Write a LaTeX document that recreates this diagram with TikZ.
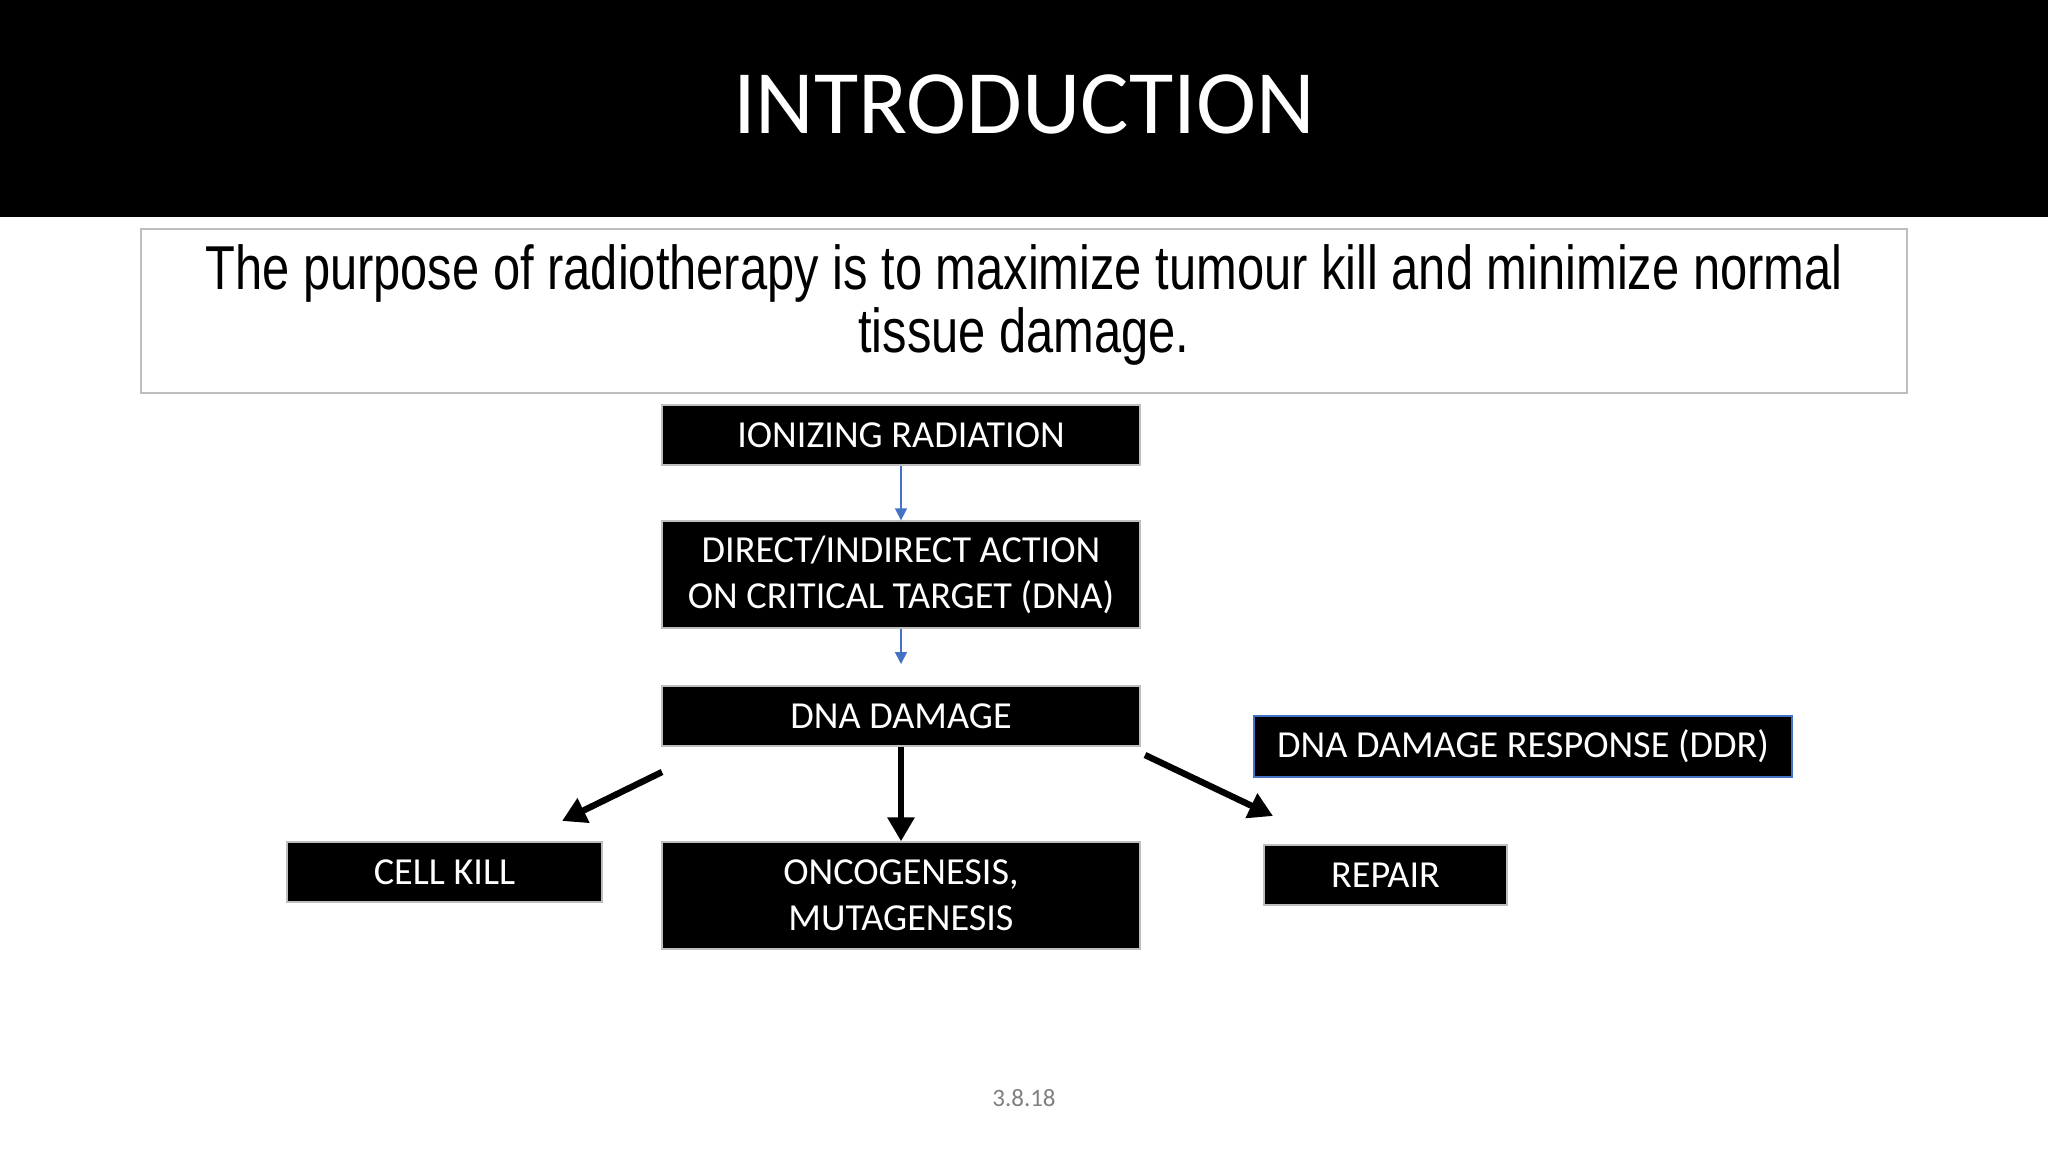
\documentclass[tikz,border=0pt]{standalone}
\usepackage{fontspec}
\usepackage{tikz}
\usetikzlibrary{arrows.meta}
\setmainfont{Carlito}
\newfontfamily\narrowfont[FakeStretch=0.788]{Liberation Sans}
\definecolor{boxline}{RGB}{190,190,190}
\definecolor{ddrblue}{RGB}{68,114,196}
\definecolor{datagray}{RGB}{128,128,128}
\tikzset{
  blkbox/.style={draw=boxline,line width=0.7pt,fill=black,text=white,align=center,
    inner sep=0pt,font=\fontsize{19.1}{23}\selectfont},
  thinarr/.style={ddrblue,line width=0.8pt,-{Triangle[width=6pt,length=6pt]}},
  fatarr/.style={line width=3.2pt,-{Triangle[width=13pt,length=12pt]}}
}
\begin{document}
\begin{tikzpicture}[x=0.5pt,y=-0.5pt]
  \useasboundingbox (0,0) rectangle (2048,1152);
  \fill[white] (0,0) rectangle (2048,1152);
  \fill[black] (0,0) rectangle (2048,217);
  \node[text=white,font=\fontsize{45.3}{50}\selectfont] (title) at (1024,104) {INTRODUCTION};
  % purpose statement
  \node[draw=boxline,line width=0.8pt,minimum width=883pt,minimum height=82pt] (purpose) at (1024,311) {};
  \node[align=center,font=\narrowfont\fontsize{31}{31.5}\selectfont] (purptxt) at (1024,305)
    {The purpose of radiotherapy is to maximize tumour kill and minimize normal\\tissue damage.};
  % flow chart
  \node[blkbox,minimum width=239pt,minimum height=30pt] (ion) at (901,435) {IONIZING RADIATION};
  \node[blkbox,minimum width=239pt,minimum height=53.5pt] (act) at (901,574.5)
    {DIRECT/INDIRECT ACTION\\ON CRITICAL TARGET (DNA)};
  \node[blkbox,minimum width=239pt,minimum height=30pt] (dmg) at (901,716) {DNA DAMAGE};
  \node[blkbox,draw=ddrblue,minimum width=269pt,minimum height=30.5pt] (ddr) at (1523,746.5)
    {DNA DAMAGE RESPONSE (DDR)};
  \node[blkbox,minimum width=157.5pt,minimum height=30pt] (kill) at (444.5,872) {CELL KILL};
  \node[blkbox,minimum width=239pt,minimum height=53.5pt] (onco) at (901,895.5)
    {ONCOGENESIS,\\MUTAGENESIS};
  \node[blkbox,minimum width=121.5pt,minimum height=30pt] (rep) at (1385.5,875) {REPAIR};
  \coordinate (killfrom) at (662,772);
  \coordinate (killto) at (562,821);
  \coordinate (repfrom) at (1145,755);
  \coordinate (repto) at (1273,816);
  \coordinate (actto) at (901,664);

  \draw[thinarr] (ion) -- (act);
  \draw[thinarr] (act) -- (actto);
  \draw[fatarr] (killfrom) -- (killto);
  \draw[fatarr] (dmg) -- (onco);
  \draw[fatarr] (repfrom) -- (repto);

  \node[text=datagray,font=\fontsize{12.5}{14}\selectfont] (date) at (1024,1098) {3.8.18};
\end{tikzpicture}
\end{document}
